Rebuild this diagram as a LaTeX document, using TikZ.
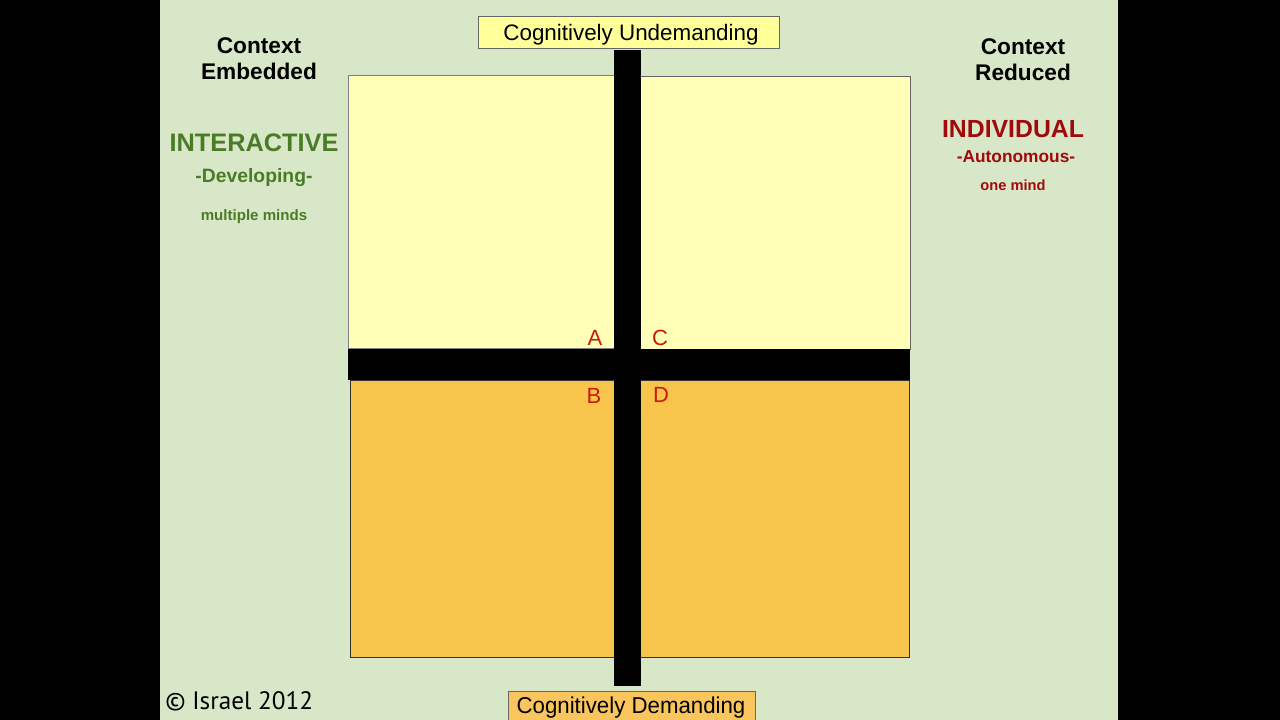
\documentclass[tikz,border=0pt]{standalone}
\usepackage{fontspec}
\setmainfont{Liberation Sans}
\newfontfamily\copyfont{PT Sans}
\definecolor{bgblack}{HTML}{000000}
\definecolor{bggreen}{HTML}{D9E7C9}
\definecolor{paleyellow}{HTML}{FFFFB8}
\definecolor{labelyellow}{HTML}{FFFF99}
\definecolor{quadorange}{HTML}{F8C54C}
\definecolor{labelorange}{HTML}{F9C55C}
\definecolor{txtgreen}{HTML}{4A7C25}
\definecolor{txtred}{HTML}{A00A0A}
\definecolor{letterred}{HTML}{CC1A0A}
\tikzset{
  quad/.style={draw=#1, line width=0.6pt},
  bar/.style={fill=black},
  axislabel/.style={draw=black!60, line width=0.6pt, inner sep=0pt, anchor=north west},
  ctx/.style={font=\bfseries\fontsize{17}{19.5}\selectfont, align=center, anchor=base, inner sep=0pt},
  letter/.style={text=letterred, font=\fontsize{16.5}{18}\selectfont, inner sep=0pt},
}
\begin{document}
\begin{tikzpicture}[x=0.75pt,y=-0.75pt]
\useasboundingbox (0,0) rectangle (1280,720);
\fill[bgblack] (0,0) rectangle (1280,720);
\fill[bggreen] (160,0) rectangle (1118,720);
% quadrants
\filldraw[fill=paleyellow, quad=black!50] (348,75) rectangle (614,348);
\filldraw[fill=paleyellow, quad=black!60] (640,76) rectangle (910,349);
\filldraw[fill=quadorange, quad=black!80] (350,380) rectangle (614,657);
\filldraw[fill=quadorange, quad=black!80] (640,380) rectangle (909,657);
% axes bars
\fill[bar] (614,50) rectangle (641,686);
\fill[bar] (348,349) rectangle (910,380);
% axis labels
\node[axislabel, fill=labelyellow, minimum width=301*0.75pt, minimum height=32*0.75pt] (topbox) at (478,16) {};
\node[font=\fontsize{16.8}{18}\selectfont, anchor=base, inner sep=0pt] (toplabel) at (631,41) {Cognitively Undemanding};
\node[axislabel, fill=labelorange, minimum width=247*0.75pt, minimum height=34*0.75pt] (botbox) at (508,691) {};
\node[font=\fontsize{17.2}{18}\selectfont, anchor=base, inner sep=0pt, xscale=0.97] (botlabel) at (631,713) {Cognitively Demanding};
% left texts
\node[ctx] (ctxemb) at (259,80) {Context\\Embedded};
\node[text=txtgreen, font=\bfseries\fontsize{19}{21}\selectfont, anchor=base, inner sep=0pt] (inter) at (254,152) {INTERACTIVE};
\node[text=txtgreen, font=\bfseries\fontsize{14.5}{16}\selectfont, anchor=base, inner sep=0pt] (dev) at (254,183) {-Developing-};
\node[text=txtgreen, font=\bfseries\fontsize{11.3}{13}\selectfont, anchor=base, inner sep=0pt] (multi) at (254,220) {multiple minds};
% right texts
\node[ctx] (ctxred) at (1023,81) {Context\\Reduced};
\node[text=txtred, font=\bfseries\fontsize{18.6}{20}\selectfont, anchor=base, inner sep=0pt] (indiv) at (1013,138) {INDIVIDUAL};
\node[text=txtred, font=\bfseries\fontsize{13}{15}\selectfont, anchor=base, inner sep=0pt] (auto) at (1016,163) {-Autonomous-};
\node[text=txtred, font=\bfseries\fontsize{11}{13}\selectfont, anchor=base, inner sep=0pt] (onemind) at (1013,191) {one mind};
% quadrant letters
\node[letter] (A) at (595,338) {A};
\node[letter] (C) at (660,338) {C};
\node[letter] (B) at (594,396) {B};
\node[letter] (D) at (661,395) {D};
% copyright
\node[font=\copyfont\fontsize{18.9}{20}\selectfont, anchor=west, inner sep=0pt] (copy) at (165,701) {© Israel 2012};
\end{tikzpicture}
\end{document}
